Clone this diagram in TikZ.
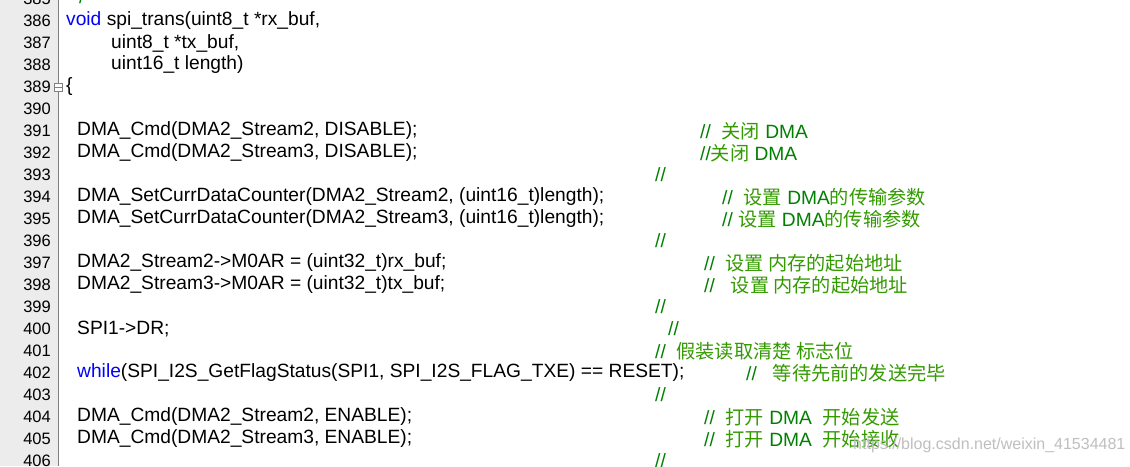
\documentclass[tikz,border=0pt]{standalone}
\usepackage{fontspec}
\setmainfont{Liberation Sans}
\newfontfamily\cjk{Noto Sans CJK SC}
\definecolor{cgreen}{RGB}{0,128,0}
\definecolor{kw}{RGB}{0,0,255}
\definecolor{gut}{RGB}{236,236,236}
\newcommand{\cm}[1]{{\color{cgreen}#1}}
\newcommand{\zh}[1]{{\cjk\color{cgreen!80!yellow}#1}}
\begin{document}
\begin{tikzpicture}[x=1pt,y=-1pt,
  txt/.style={anchor=west,inner sep=0,font=\fontsize{19.2}{20}\selectfont},
  num/.style={anchor=east,inner sep=0,font=\fontsize{16.5}{18}\selectfont}]
\useasboundingbox (0,0) rectangle (1130,466);
\fill[white] (0,0) rectangle (1130,466);
\fill[gut] (0,0) rectangle (58,466);
\draw[gray] (58,-1) -- (58,466);
\foreach \n [count=\k from 0] in {385,...,406} {
  \node[num] (n\n) at (51,{-1+22*\k}) {\n};
}
\node[draw=gray,fill=white,minimum size=8pt,inner sep=0] (fold) at (58,87) {};
\draw[gray] (54.5,87) -- (61.5,87);
\node[txt] (l385) at (79,-3) {\cm{/}};
\node[txt] (l386) at (66,21) {{\color{kw}void} spi\_trans(uint8\_t *rx\_buf,};
\node[txt] (l387) at (111,43) {uint8\_t *tx\_buf,};
\node[txt] (l388) at (111,65) {uint16\_t length)};
\node[txt] (l389) at (66,87) {\{};
\node[txt] (l391) at (77,131) {DMA\_Cmd(DMA2\_Stream2, DISABLE);};
\node[txt] (l392) at (77,153) {DMA\_Cmd(DMA2\_Stream3, DISABLE);};
\node[txt] (l394) at (77,197) {DMA\_SetCurrDataCounter(DMA2\_Stream2, (uint16\_t)length);};
\node[txt] (l395) at (77,219) {DMA\_SetCurrDataCounter(DMA2\_Stream3, (uint16\_t)length);};
\node[txt] (l397) at (77,263) {DMA2\_Stream2->M0AR = (uint32\_t)rx\_buf;};
\node[txt] (l398) at (77,285) {DMA2\_Stream3->M0AR = (uint32\_t)tx\_buf;};
\node[txt] (l400) at (77,329) {SPI1->DR;};
\node[txt] (l402) at (77,373) {{\color{kw}while}(SPI\_I2S\_GetFlagStatus(SPI1, SPI\_I2S\_FLAG\_TXE) == RESET);};
\node[txt] (l404) at (77,417) {DMA\_Cmd(DMA2\_Stream2, ENABLE);};
\node[txt] (l405) at (77,439) {DMA\_Cmd(DMA2\_Stream3, ENABLE);};
\node[txt] (c391) at (700,131) {\cm{//\ \ }\zh{关闭} \cm{DMA}};
\node[txt] (c392) at (700,153) {\cm{//}\zh{关闭} \cm{DMA}};
\node[txt] (c393) at (655,175) {\cm{//}};
\node[txt] (c394) at (722,197) {\cm{//\ \ }\zh{设置} \cm{DMA}\zh{的传输参数}};
\node[txt] (c395) at (722,219) {\cm{// }\zh{设置} \cm{DMA}\zh{的传输参数}};
\node[txt] (c396) at (655,241) {\cm{//}};
\node[txt] (c397) at (704,263) {\cm{//\ \ }\zh{设置 内存的起始地址}};
\node[txt] (c398) at (704,285) {\cm{//\ \ \ }\zh{设置 内存的起始地址}};
\node[txt] (c399) at (655,307) {\cm{//}};
\node[txt] (c400) at (668,329) {\cm{//}};
\node[txt] (c401) at (655,351) {\cm{//\ \ }\zh{假装读取清楚 标志位}};
\node[txt] (c402) at (746,373) {\cm{//\ \ \ }\zh{等待先前的发送完毕}};
\node[txt] (c403) at (655,395) {\cm{//}};
\node[txt] (c404) at (704,417) {\cm{//\ \ }\zh{打开} \cm{DMA\ \ }\zh{开始发送}};
\node[txt] (c405) at (704,439) {\cm{//\ \ }\zh{打开} \cm{DMA\ \ }\zh{开始接收}};
\node[txt] (c406) at (655,461) {\cm{//}};
\node[txt,text=black!25,font=\fontsize{16}{18}\selectfont] (wm) at (853,445) {https://blog.csdn.net/weixin\_41534481};
\end{tikzpicture}
\end{document}
